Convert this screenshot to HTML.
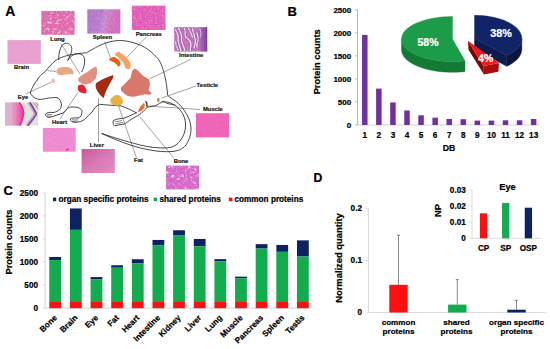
<!DOCTYPE html>
<html><head><meta charset="utf-8"><style>
html,body{margin:0;padding:0;background:#fff;width:550px;height:349px;overflow:hidden}
svg{display:block}
text{font-family:"Liberation Sans",sans-serif;font-weight:bold}
</style></head><body>
<svg width="550" height="349" viewBox="0 0 550 349">
<rect width="550" height="349" fill="#fff"/>
<text x="5.2" y="16" font-size="14" text-anchor="start" fill="#000"  stroke="#000" stroke-width="0.22">A</text>
<text x="287.6" y="16.3" font-size="13" text-anchor="start" fill="#000"  stroke="#000" stroke-width="0.22">B</text>
<text x="3.4" y="194.9" font-size="13" text-anchor="start" fill="#000"  stroke="#000" stroke-width="0.22">C</text>
<text x="313.6" y="181.9" font-size="12.2" text-anchor="start" fill="#000"  stroke="#000" stroke-width="0.22">D</text>
<line x1="357.5" y1="9.5" x2="357.5" y2="125.0" stroke="#9fb3cf" stroke-width="0.9"/>
<line x1="357.5" y1="125.0" x2="540" y2="125.0" stroke="#c8d0dc" stroke-width="0.9"/>
<line x1="355.0" y1="9.9" x2="357.5" y2="9.9" stroke="#9fb3cf" stroke-width="0.9"/>
<text x="351.2" y="12.6" font-size="8.0" text-anchor="end" fill="#000"  stroke="#000" stroke-width="0.22">2500</text>
<line x1="355.0" y1="32.9" x2="357.5" y2="32.9" stroke="#9fb3cf" stroke-width="0.9"/>
<text x="351.2" y="35.6" font-size="8.0" text-anchor="end" fill="#000"  stroke="#000" stroke-width="0.22">2000</text>
<line x1="355.0" y1="55.9" x2="357.5" y2="55.9" stroke="#9fb3cf" stroke-width="0.9"/>
<text x="351.2" y="58.6" font-size="8.0" text-anchor="end" fill="#000"  stroke="#000" stroke-width="0.22">1500</text>
<line x1="355.0" y1="78.9" x2="357.5" y2="78.9" stroke="#9fb3cf" stroke-width="0.9"/>
<text x="351.2" y="81.6" font-size="8.0" text-anchor="end" fill="#000"  stroke="#000" stroke-width="0.22">1000</text>
<line x1="355.0" y1="101.9" x2="357.5" y2="101.9" stroke="#9fb3cf" stroke-width="0.9"/>
<text x="351.2" y="104.6" font-size="8.0" text-anchor="end" fill="#000"  stroke="#000" stroke-width="0.22">500</text>
<line x1="355.0" y1="124.9" x2="357.5" y2="124.9" stroke="#9fb3cf" stroke-width="0.9"/>
<text x="351.2" y="127.6" font-size="8.0" text-anchor="end" fill="#000"  stroke="#000" stroke-width="0.22">0</text>
<rect x="362.05" y="34.9" width="5.5" height="90.10" fill="#7030a0"/>
<text x="364.80" y="138.2" font-size="8.2" text-anchor="middle" fill="#000"  stroke="#000" stroke-width="0.22">1</text>
<rect x="376.12" y="88.6" width="5.5" height="36.40" fill="#7030a0"/>
<text x="378.87" y="138.2" font-size="8.2" text-anchor="middle" fill="#000"  stroke="#000" stroke-width="0.22">2</text>
<rect x="390.19" y="102.4" width="5.5" height="22.60" fill="#7030a0"/>
<text x="392.94" y="138.2" font-size="8.2" text-anchor="middle" fill="#000"  stroke="#000" stroke-width="0.22">3</text>
<rect x="404.26" y="110.5" width="5.5" height="14.50" fill="#7030a0"/>
<text x="407.01" y="138.2" font-size="8.2" text-anchor="middle" fill="#000"  stroke="#000" stroke-width="0.22">4</text>
<rect x="418.33" y="115.3" width="5.5" height="9.70" fill="#7030a0"/>
<text x="421.08" y="138.2" font-size="8.2" text-anchor="middle" fill="#000"  stroke="#000" stroke-width="0.22">5</text>
<rect x="432.40" y="117.7" width="5.5" height="7.30" fill="#7030a0"/>
<text x="435.15" y="138.2" font-size="8.2" text-anchor="middle" fill="#000"  stroke="#000" stroke-width="0.22">6</text>
<rect x="446.47" y="119.0" width="5.5" height="6.00" fill="#7030a0"/>
<text x="449.22" y="138.2" font-size="8.2" text-anchor="middle" fill="#000"  stroke="#000" stroke-width="0.22">7</text>
<rect x="460.54" y="119.2" width="5.5" height="5.80" fill="#7030a0"/>
<text x="463.29" y="138.2" font-size="8.2" text-anchor="middle" fill="#000"  stroke="#000" stroke-width="0.22">8</text>
<rect x="474.61" y="120.6" width="5.5" height="4.40" fill="#7030a0"/>
<text x="477.36" y="138.2" font-size="8.2" text-anchor="middle" fill="#000"  stroke="#000" stroke-width="0.22">9</text>
<rect x="488.68" y="120.6" width="5.5" height="4.40" fill="#7030a0"/>
<text x="491.43" y="138.2" font-size="8.2" text-anchor="middle" fill="#000"  stroke="#000" stroke-width="0.22">10</text>
<rect x="502.75" y="120.3" width="5.5" height="4.70" fill="#7030a0"/>
<text x="505.50" y="138.2" font-size="8.2" text-anchor="middle" fill="#000"  stroke="#000" stroke-width="0.22">11</text>
<rect x="516.82" y="120.3" width="5.5" height="4.70" fill="#7030a0"/>
<text x="519.57" y="138.2" font-size="8.2" text-anchor="middle" fill="#000"  stroke="#000" stroke-width="0.22">12</text>
<rect x="530.89" y="119.0" width="5.5" height="6.00" fill="#7030a0"/>
<text x="533.64" y="138.2" font-size="8.2" text-anchor="middle" fill="#000"  stroke="#000" stroke-width="0.22">13</text>
<text x="449" y="150.6" font-size="8.7" text-anchor="middle" fill="#000"  stroke="#000" stroke-width="0.22">DB</text>
<text x="0" y="0" font-size="9.3" stroke="#000" stroke-width="0.22" text-anchor="middle" transform="translate(320.3 61.8) rotate(-90)">Protein counts</text>
<path d="M465.01 60.81 L462.35 61.08 L459.66 61.28 L456.95 61.41 L454.23 61.49 L451.50 61.50 L448.78 61.44 L446.06 61.32 L443.37 61.14 L440.70 60.89 L438.06 60.58 L435.47 60.21 L432.92 59.78 L430.43 59.28 L428.00 58.73 L425.65 58.13 L423.37 57.47 L421.17 56.75 L419.06 55.99 L417.05 55.18 L415.14 54.32 L413.34 53.41 L411.65 52.47 L410.08 51.49 L408.62 50.47 L407.30 49.42 L406.10 48.34 L405.03 47.23 L404.10 46.10 L403.31 44.95 L402.66 43.78 L402.16 42.60 L401.79 41.40 L401.57 40.20 L401.50 39.00 L401.50 49.80 L401.57 51.00 L401.79 52.20 L402.16 53.40 L402.66 54.58 L403.31 55.75 L404.10 56.90 L405.03 58.03 L406.10 59.14 L407.30 60.22 L408.62 61.27 L410.08 62.29 L411.65 63.27 L413.34 64.21 L415.14 65.12 L417.05 65.98 L419.06 66.79 L421.17 67.55 L423.37 68.27 L425.65 68.93 L428.00 69.53 L430.43 70.08 L432.92 70.58 L435.47 71.01 L438.06 71.38 L440.70 71.69 L443.37 71.94 L446.06 72.12 L448.78 72.24 L451.50 72.30 L454.23 72.29 L456.95 72.21 L459.66 72.08 L462.35 71.88 L465.01 71.61 Z" fill="#137a36" stroke="#137a36" stroke-width="0.4" stroke-linejoin="round"/>
<path d="M452.50 39.00 L465.01 60.81 L462.38 61.07 L459.71 61.27 L457.03 61.41 L454.34 61.49 L451.63 61.50 L448.94 61.45 L446.25 61.33 L443.58 61.15 L440.93 60.91 L438.32 60.61 L435.75 60.25 L433.22 59.83 L430.75 59.35 L428.34 58.81 L425.99 58.22 L423.72 57.58 L421.53 56.88 L419.43 56.13 L417.42 55.33 L415.51 54.49 L413.71 53.61 L412.01 52.68 L410.42 51.71 L408.96 50.71 L407.61 49.68 L406.39 48.62 L405.30 47.53 L404.35 46.41 L403.53 45.28 L402.84 44.13 L402.30 42.96 L401.89 41.78 L401.63 40.60 L401.51 39.40 L401.53 38.21 L401.70 37.02 L402.01 35.84 L402.46 34.67 L403.05 33.50 L403.77 32.36 L404.64 31.23 L405.64 30.12 L406.77 29.04 L408.03 27.98 L409.41 26.96 L410.92 25.97 L412.54 25.02 L414.27 24.11 L416.11 23.23 L418.06 22.41 L420.10 21.63 L422.23 20.89 L424.44 20.21 L426.74 19.58 L429.10 19.01 L431.53 18.49 L434.02 18.03 L436.57 17.63 L439.15 17.28 L441.78 17.00 L444.43 16.78 L447.11 16.63 L449.80 16.53 L452.50 16.50 Z" fill="#1c9c48" stroke="#1c9c48" stroke-width="0.4" stroke-linejoin="round"/>
<path d="M521.80 38.50 L521.73 39.77 L521.52 41.03 L521.16 42.29 L520.67 43.53 L520.04 44.76 L519.28 45.98 L518.38 47.17 L517.35 48.33 L516.19 49.46 L514.90 50.56 L513.50 51.63 L511.98 52.66 L510.34 53.64 L508.60 54.58 L506.76 55.47 L506.76 66.27 L508.60 65.38 L510.34 64.44 L511.98 63.46 L513.50 62.43 L514.90 61.36 L516.19 60.26 L517.35 59.13 L518.38 57.97 L519.28 56.78 L520.04 55.56 L520.67 54.33 L521.16 53.09 L521.52 51.83 L521.73 50.57 L521.80 49.30 Z" fill="#0a1540" stroke="#0a1540" stroke-width="0.4" stroke-linejoin="round"/>
<path d="M474.50 38.50 L506.76 55.47 L506.76 66.27 L474.50 49.30 Z" fill="#0c1a4c" stroke="#0c1a4c" stroke-width="0.4" stroke-linejoin="round"/>
<path d="M474.50 38.50 L474.50 15.30 L477.01 15.33 L479.52 15.43 L482.01 15.59 L484.48 15.82 L486.92 16.11 L489.33 16.47 L491.69 16.89 L494.01 17.36 L496.27 17.90 L498.47 18.50 L500.60 19.15 L502.66 19.86 L504.64 20.62 L506.53 21.43 L508.33 22.29 L510.04 23.19 L511.65 24.14 L513.15 25.13 L514.54 26.15 L515.82 27.21 L516.99 28.31 L518.03 29.43 L518.95 30.57 L519.75 31.74 L520.42 32.93 L520.96 34.14 L521.36 35.35 L521.64 36.58 L521.78 37.81 L521.79 39.04 L521.66 40.27 L521.40 41.50 L521.01 42.71 L520.49 43.92 L519.84 45.11 L519.06 46.28 L518.15 47.43 L517.12 48.56 L515.98 49.65 L514.71 50.72 L513.33 51.75 L511.84 52.74 L510.25 53.69 L508.55 54.60 L506.76 55.47 Z" fill="#122468" stroke="#122468" stroke-width="0.4" stroke-linejoin="round"/>
<path d="M468 40.7 L468.6 50 L484 74.6 L483.5 66 Z" fill="#780808"/>
<path d="M483.5 66 L499 63.1 L498.4 71.7 L484 74.6 Z" fill="#a80e0e"/>
<path d="M468 40.7 L499 63.1 L483.5 66 Z" fill="#ee1a1a"/>
<text x="428" y="45.5" font-size="10.5" text-anchor="middle" fill="#fff"  stroke="#fff" stroke-width="0.22">58%</text>
<text x="501" y="37.3" font-size="10.8" text-anchor="middle" fill="#fff"  stroke="#fff" stroke-width="0.22">38%</text>
<text x="485.8" y="62" font-size="10.4" text-anchor="middle" fill="#fff"  stroke="#fff" stroke-width="0.22">4%</text>
<line x1="45.1" y1="192.9" x2="45.1" y2="308.2" stroke="#d0d0d0" stroke-width="0.9"/>
<line x1="45.1" y1="308.2" x2="312.7" y2="308.2" stroke="#d0d0d0" stroke-width="0.9"/>
<line x1="42.6" y1="192.9" x2="45.1" y2="192.9" stroke="#d0d0d0" stroke-width="0.9"/>
<text x="38.0" y="195.9" font-size="8.2" text-anchor="end" fill="#000"  stroke="#000" stroke-width="0.22">2500</text>
<line x1="42.6" y1="215.94" x2="45.1" y2="215.94" stroke="#d0d0d0" stroke-width="0.9"/>
<text x="38.0" y="218.94" font-size="8.2" text-anchor="end" fill="#000"  stroke="#000" stroke-width="0.22">2000</text>
<line x1="42.6" y1="238.98000000000002" x2="45.1" y2="238.98000000000002" stroke="#d0d0d0" stroke-width="0.9"/>
<text x="38.0" y="241.98000000000002" font-size="8.2" text-anchor="end" fill="#000"  stroke="#000" stroke-width="0.22">1500</text>
<line x1="42.6" y1="262.02" x2="45.1" y2="262.02" stroke="#d0d0d0" stroke-width="0.9"/>
<text x="38.0" y="265.02" font-size="8.2" text-anchor="end" fill="#000"  stroke="#000" stroke-width="0.22">1000</text>
<line x1="42.6" y1="285.06" x2="45.1" y2="285.06" stroke="#d0d0d0" stroke-width="0.9"/>
<text x="38.0" y="288.06" font-size="8.2" text-anchor="end" fill="#000"  stroke="#000" stroke-width="0.22">500</text>
<line x1="42.6" y1="308.1" x2="45.1" y2="308.1" stroke="#d0d0d0" stroke-width="0.9"/>
<text x="38.0" y="311.1" font-size="8.2" text-anchor="end" fill="#000"  stroke="#000" stroke-width="0.22">0</text>
<text x="0" y="0" font-size="9.3" stroke="#000" stroke-width="0.22" text-anchor="middle" transform="translate(11.8 242) rotate(-90)">Protein counts</text>
<rect x="49.30" y="256.95" width="11.8" height="3.10" fill="#0c2262"/>
<rect x="49.30" y="260.05" width="11.8" height="41.95" fill="#10ac4e"/>
<rect x="49.30" y="302.0" width="11.8" height="6.20" fill="#ff1010"/>
<text x="0" y="0" font-size="8.2" stroke="#000" stroke-width="0.22" text-anchor="end" transform="translate(57.40 318.3) rotate(-45)">Bone</text>
<rect x="69.94" y="208.45" width="11.8" height="21.40" fill="#0c2262"/>
<rect x="69.94" y="229.85" width="11.8" height="72.15" fill="#10ac4e"/>
<rect x="69.94" y="302.0" width="11.8" height="6.20" fill="#ff1010"/>
<text x="0" y="0" font-size="8.2" stroke="#000" stroke-width="0.22" text-anchor="end" transform="translate(78.04 318.3) rotate(-45)">Brain</text>
<rect x="90.58" y="277.05" width="11.8" height="2.10" fill="#0c2262"/>
<rect x="90.58" y="279.15" width="11.8" height="22.85" fill="#10ac4e"/>
<rect x="90.58" y="302.0" width="11.8" height="6.20" fill="#ff1010"/>
<text x="0" y="0" font-size="8.2" stroke="#000" stroke-width="0.22" text-anchor="end" transform="translate(98.68 318.3) rotate(-45)">Eye</text>
<rect x="111.22" y="265.25" width="11.8" height="2.50" fill="#0c2262"/>
<rect x="111.22" y="267.75" width="11.8" height="34.25" fill="#10ac4e"/>
<rect x="111.22" y="302.0" width="11.8" height="6.20" fill="#ff1010"/>
<text x="0" y="0" font-size="8.2" stroke="#000" stroke-width="0.22" text-anchor="end" transform="translate(119.32 318.3) rotate(-45)">Fat</text>
<rect x="131.86" y="259.25" width="11.8" height="4.20" fill="#0c2262"/>
<rect x="131.86" y="263.45" width="11.8" height="38.55" fill="#10ac4e"/>
<rect x="131.86" y="302.0" width="11.8" height="6.20" fill="#ff1010"/>
<text x="0" y="0" font-size="8.2" stroke="#000" stroke-width="0.22" text-anchor="end" transform="translate(139.96 318.3) rotate(-45)">Heart</text>
<rect x="152.50" y="239.95" width="11.8" height="5.20" fill="#0c2262"/>
<rect x="152.50" y="245.14999999999998" width="11.8" height="56.85" fill="#10ac4e"/>
<rect x="152.50" y="302.0" width="11.8" height="6.20" fill="#ff1010"/>
<text x="0" y="0" font-size="8.2" stroke="#000" stroke-width="0.22" text-anchor="end" transform="translate(160.60 318.3) rotate(-45)">Intestine</text>
<rect x="173.14" y="230.25" width="11.8" height="5.30" fill="#0c2262"/>
<rect x="173.14" y="235.54999999999998" width="11.8" height="66.45" fill="#10ac4e"/>
<rect x="173.14" y="302.0" width="11.8" height="6.20" fill="#ff1010"/>
<text x="0" y="0" font-size="8.2" stroke="#000" stroke-width="0.22" text-anchor="end" transform="translate(181.24 318.3) rotate(-45)">Kidney</text>
<rect x="193.78" y="238.95" width="11.8" height="7.40" fill="#0c2262"/>
<rect x="193.78" y="246.35" width="11.8" height="55.65" fill="#10ac4e"/>
<rect x="193.78" y="302.0" width="11.8" height="6.20" fill="#ff1010"/>
<text x="0" y="0" font-size="8.2" stroke="#000" stroke-width="0.22" text-anchor="end" transform="translate(201.88 318.3) rotate(-45)">Liver</text>
<rect x="214.42" y="259.15" width="11.8" height="2.20" fill="#0c2262"/>
<rect x="214.42" y="261.34999999999997" width="11.8" height="40.65" fill="#10ac4e"/>
<rect x="214.42" y="302.0" width="11.8" height="6.20" fill="#ff1010"/>
<text x="0" y="0" font-size="8.2" stroke="#000" stroke-width="0.22" text-anchor="end" transform="translate(222.52 318.3) rotate(-45)">Lung</text>
<rect x="235.06" y="276.65" width="11.8" height="1.60" fill="#0c2262"/>
<rect x="235.06" y="278.25" width="11.8" height="23.75" fill="#10ac4e"/>
<rect x="235.06" y="302.0" width="11.8" height="6.20" fill="#ff1010"/>
<text x="0" y="0" font-size="8.2" stroke="#000" stroke-width="0.22" text-anchor="end" transform="translate(243.16 318.3) rotate(-45)">Muscle</text>
<rect x="255.70" y="244.14999999999998" width="11.8" height="4.40" fill="#0c2262"/>
<rect x="255.70" y="248.54999999999998" width="11.8" height="53.45" fill="#10ac4e"/>
<rect x="255.70" y="302.0" width="11.8" height="6.20" fill="#ff1010"/>
<text x="0" y="0" font-size="8.2" stroke="#000" stroke-width="0.22" text-anchor="end" transform="translate(263.80 318.3) rotate(-45)">Pancreas</text>
<rect x="276.34" y="244.95" width="11.8" height="6.90" fill="#0c2262"/>
<rect x="276.34" y="251.85" width="11.8" height="50.15" fill="#10ac4e"/>
<rect x="276.34" y="302.0" width="11.8" height="6.20" fill="#ff1010"/>
<text x="0" y="0" font-size="8.2" stroke="#000" stroke-width="0.22" text-anchor="end" transform="translate(284.44 318.3) rotate(-45)">Spleen</text>
<rect x="296.98" y="240.35" width="11.8" height="16.10" fill="#0c2262"/>
<rect x="296.98" y="256.45" width="11.8" height="45.55" fill="#10ac4e"/>
<rect x="296.98" y="302.0" width="11.8" height="6.20" fill="#ff1010"/>
<text x="0" y="0" font-size="8.2" stroke="#000" stroke-width="0.22" text-anchor="end" transform="translate(305.08 318.3) rotate(-45)">Testis</text>
<rect x="53" y="197.6" width="3.2" height="3.6" fill="#0c2262"/>
<text x="58.6" y="201.6" font-size="8.2" text-anchor="start" fill="#000"  stroke="#000" stroke-width="0.22">organ specific proteins</text>
<rect x="153.6" y="197.6" width="3.4" height="3.6" fill="#10ac4e"/>
<text x="159.5" y="201.6" font-size="8.2" text-anchor="start" fill="#000"  stroke="#000" stroke-width="0.22">shared proteins</text>
<rect x="228.8" y="197.6" width="3.6" height="3.6" fill="#ff1010"/>
<text x="234.5" y="201.6" font-size="8.2" text-anchor="start" fill="#000"  stroke="#000" stroke-width="0.22">common proteins</text>
<line x1="368.5" y1="208.4" x2="368.5" y2="312.5" stroke="#d8d8d8" stroke-width="0.9"/>
<line x1="368.5" y1="312.5" x2="546" y2="312.5" stroke="#d8d8d8" stroke-width="0.9"/>
<line x1="366.0" y1="208.4" x2="368.5" y2="208.4" stroke="#d8d8d8" stroke-width="0.9"/>
<text x="362" y="211.4" font-size="8.2" text-anchor="end" fill="#000"  stroke="#000" stroke-width="0.22">0.2</text>
<line x1="366.0" y1="260.4" x2="368.5" y2="260.4" stroke="#d8d8d8" stroke-width="0.9"/>
<text x="362" y="263.4" font-size="8.2" text-anchor="end" fill="#000"  stroke="#000" stroke-width="0.22">0.1</text>
<line x1="366.0" y1="312.4" x2="368.5" y2="312.4" stroke="#d8d8d8" stroke-width="0.9"/>
<text x="362" y="315.4" font-size="8.2" text-anchor="end" fill="#000"  stroke="#000" stroke-width="0.22">0</text>
<text x="0" y="0" font-size="9.4" stroke="#000" stroke-width="0.22" text-anchor="middle" transform="translate(341.6 258) rotate(-90)">Normalized quantity</text>
<line x1="398.5" y1="235.3" x2="398.5" y2="284.8" stroke="#555" stroke-width="0.7"/>
<line x1="397.0" y1="235.3" x2="400.0" y2="235.3" stroke="#555" stroke-width="0.7"/>
<rect x="389.3" y="284.8" width="18.4" height="27.70" fill="#ff1010"/>
<line x1="457.3" y1="279.6" x2="457.3" y2="304.6" stroke="#555" stroke-width="0.7"/>
<line x1="455.8" y1="279.6" x2="458.8" y2="279.6" stroke="#555" stroke-width="0.7"/>
<rect x="448.1" y="304.6" width="18.4" height="7.90" fill="#10ac4e"/>
<line x1="516.5" y1="300.3" x2="516.5" y2="309.7" stroke="#555" stroke-width="0.7"/>
<line x1="515.0" y1="300.3" x2="518.0" y2="300.3" stroke="#555" stroke-width="0.7"/>
<rect x="507.3" y="309.7" width="18.4" height="2.80" fill="#0c2262"/>
<text x="398.5" y="324.8" font-size="8.1" text-anchor="middle" fill="#000"  stroke="#000" stroke-width="0.22">common</text>
<text x="398.5" y="333.8" font-size="8.1" text-anchor="middle" fill="#000"  stroke="#000" stroke-width="0.22">proteins</text>
<text x="456.5" y="324.8" font-size="8.1" text-anchor="middle" fill="#000"  stroke="#000" stroke-width="0.22">shared</text>
<text x="456.5" y="333.8" font-size="8.1" text-anchor="middle" fill="#000"  stroke="#000" stroke-width="0.22">proteins</text>
<text x="516.5" y="324.8" font-size="8.1" text-anchor="middle" fill="#000"  stroke="#000" stroke-width="0.22">organ specific</text>
<text x="516.5" y="333.8" font-size="8.1" text-anchor="middle" fill="#000"  stroke="#000" stroke-width="0.22">proteins</text>
<line x1="472.0" y1="189.9" x2="472.0" y2="238.3" stroke="#d8d8d8" stroke-width="0.9"/>
<line x1="472.0" y1="238.3" x2="541" y2="238.3" stroke="#d8d8d8" stroke-width="0.9"/>
<line x1="469.5" y1="189.9" x2="472.0" y2="189.9" stroke="#d8d8d8" stroke-width="0.9"/>
<text x="465.8" y="192.9" font-size="8.2" text-anchor="end" fill="#000"  stroke="#000" stroke-width="0.22">0.03</text>
<line x1="469.5" y1="206.1" x2="472.0" y2="206.1" stroke="#d8d8d8" stroke-width="0.9"/>
<text x="465.8" y="209.1" font-size="8.2" text-anchor="end" fill="#000"  stroke="#000" stroke-width="0.22">0.02</text>
<line x1="469.5" y1="222.2" x2="472.0" y2="222.2" stroke="#d8d8d8" stroke-width="0.9"/>
<text x="465.8" y="225.2" font-size="8.2" text-anchor="end" fill="#000"  stroke="#000" stroke-width="0.22">0.01</text>
<line x1="469.5" y1="238.3" x2="472.0" y2="238.3" stroke="#d8d8d8" stroke-width="0.9"/>
<text x="465.8" y="241.3" font-size="8.2" text-anchor="end" fill="#000"  stroke="#000" stroke-width="0.22">0</text>
<text x="0" y="0" font-size="9.3" stroke="#000" stroke-width="0.22" text-anchor="middle" transform="translate(441.3 210.5) rotate(-90)">NP</text>
<text x="507.5" y="189.8" font-size="9.3" text-anchor="middle" fill="#000"  stroke="#000" stroke-width="0.22">Eye</text>
<rect x="479.95000000000005" y="213.3" width="7.3" height="25.00" fill="#ff1010"/>
<text x="483.6" y="251.1" font-size="8.2" text-anchor="middle" fill="#000"  stroke="#000" stroke-width="0.22">CP</text>
<rect x="502.05" y="202.9" width="7.3" height="35.40" fill="#10ac4e"/>
<text x="505.7" y="251.1" font-size="8.2" text-anchor="middle" fill="#000"  stroke="#000" stroke-width="0.22">SP</text>
<rect x="524.75" y="207.7" width="7.3" height="30.60" fill="#0c2262"/>
<text x="528.4" y="251.1" font-size="8.2" text-anchor="middle" fill="#000"  stroke="#000" stroke-width="0.22">OSP</text>
<defs>
<filter id="nw" x="0" y="0" width="100%" height="100%" color-interpolation-filters="sRGB"><feTurbulence type="fractalNoise" baseFrequency="0.45" numOctaves="2" seed="4"/><feColorMatrix type="matrix" values="0 0 0 0 1 0 0 0 0 1 0 0 0 0 1 3 0 0 0 -1.6"/><feGaussianBlur stdDeviation="0.35"/><feComposite in2="SourceGraphic" operator="in"/></filter>
<filter id="nd" x="0" y="0" width="100%" height="100%" color-interpolation-filters="sRGB"><feTurbulence type="fractalNoise" baseFrequency="0.5" numOctaves="2" seed="9"/><feColorMatrix type="matrix" values="0 0 0 0 0.55 0 0 0 0 0.25 0 0 0 0 0.65 0 3 0 0 -1.7"/><feGaussianBlur stdDeviation="0.35"/><feComposite in2="SourceGraphic" operator="in"/></filter>
<filter id="nw2" x="0" y="0" width="100%" height="100%" color-interpolation-filters="sRGB"><feTurbulence type="fractalNoise" baseFrequency="0.32" numOctaves="2" seed="11"/><feColorMatrix type="matrix" values="0 0 0 0 1 0 0 0 0 0.92 0 0 0 0 1 3.2 0 0 0 -1.75"/><feGaussianBlur stdDeviation="0.4"/><feComposite in2="SourceGraphic" operator="in"/></filter>
<filter id="nl" x="0" y="0" width="100%" height="100%" color-interpolation-filters="sRGB"><feTurbulence type="fractalNoise" baseFrequency="0.6" numOctaves="2" seed="2"/><feColorMatrix type="matrix" values="0 0 0 0 1 0 0 0 0 1 0 0 0 0 1 0 0 3 0 -1.7"/><feComposite in2="SourceGraphic" operator="in"/></filter>
<linearGradient id="gsp" x1="0" x2="1" y1="0" y2="0.2"><stop offset="0" stop-color="#b474c8"/><stop offset="0.45" stop-color="#b87ccc"/><stop offset="0.6" stop-color="#c88ad4"/><stop offset="0.72" stop-color="#d078c4"/><stop offset="1" stop-color="#d468b8"/></linearGradient>
<linearGradient id="gli" x1="0" x2="1" y1="0" y2="1"><stop offset="0" stop-color="#c85898"/><stop offset="0.5" stop-color="#d878b4"/><stop offset="1" stop-color="#e08cc0"/></linearGradient>
</defs>
<rect x="41.3" y="10.9" width="33.3" height="23.9" fill="#e06aac"/>
<rect x="41.3" y="10.9" width="33.3" height="23.9" fill="#fff" filter="url(#nl)" opacity="0.4"/>
<rect x="41.3" y="10.9" width="33.3" height="23.9" fill="#000" filter="url(#nd)" opacity="0.2"/>
<rect x="41.3" y="10.9" width="33.3" height="23.9" fill="#fff" filter="url(#nw2)" opacity="0.85"/>
<rect x="87.3" y="9.3" width="33.1" height="24.3" fill="url(#gsp)"/>
<rect x="87.3" y="9.3" width="33.1" height="24.3" fill="#fff" filter="url(#nl)" opacity="0.25"/>
<rect x="87.3" y="9.3" width="33.1" height="24.3" fill="#fff" filter="url(#nw)" opacity="0.2"/>
<rect x="87.3" y="9.3" width="33.1" height="24.3" fill="#000" filter="url(#nd)" opacity="0.3"/>
<rect x="131.9" y="5.7" width="33.6" height="24.3" fill="#e45cb8"/>
<rect x="131.9" y="5.7" width="33.6" height="24.3" fill="#fff" filter="url(#nl)" opacity="0.3"/>
<rect x="131.9" y="5.7" width="33.6" height="24.3" fill="#fff" filter="url(#nw)" opacity="0.35"/>
<rect x="131.9" y="5.7" width="33.6" height="24.3" fill="#000" filter="url(#nd)" opacity="0.6"/>
<rect x="174.2" y="27.2" width="33" height="24.3" fill="#c27ab8"/>
<path d="M175.5 29.5 C177 33 179 36 178 40 C178.5 44 180 47 181 51 M178.5 28 C180.5 32 182.5 35 181.5 40 C182 44 184 47 185 51 M184.5 28.5 C185 32 185.2 35 185.6 37 C188 38.5 190 40 190.8 43 C191.2 46 190.5 48.5 190 51 M188.5 28.5 C190 31 191.5 34 192.5 37 M192.5 29 C193.5 33 195 37 195.4 41 C195.2 44 194.5 46 194 48 M197 33 C198 36 199 38 198 41 C197 43 196.5 45 197 47 M175.5 42 C176 45 177 48 178 50 M200 29 C201.5 32 201 35 200.5 37" stroke="#a050a8" stroke-width="2.6" fill="none" stroke-linecap="round" opacity="0.7"/>
<path d="M175.5 29.5 C177 33 179 36 178 40 C178.5 44 180 47 181 51 M178.5 28 C180.5 32 182.5 35 181.5 40 C182 44 184 47 185 51 M184.5 28.5 C185 32 185.2 35 185.6 37 C188 38.5 190 40 190.8 43 C191.2 46 190.5 48.5 190 51 M188.5 28.5 C190 31 191.5 34 192.5 37 M192.5 29 C193.5 33 195 37 195.4 41 C195.2 44 194.5 46 194 48 M197 33 C198 36 199 38 198 41 C197 43 196.5 45 197 47 M175.5 42 C176 45 177 48 178 50 M200 29 C201.5 32 201 35 200.5 37" stroke="#ecdcf0" stroke-width="1.4" fill="none" stroke-linecap="round"/>
<rect x="174.2" y="27.2" width="33" height="24.3" fill="#fff" filter="url(#nd)" opacity="0.55"/>
<defs><linearGradient id="gin" x1="0" x2="1"><stop offset="0.72" stop-color="#7030a0" stop-opacity="0"/><stop offset="1" stop-color="#6a2c98" stop-opacity="0.8"/></linearGradient></defs>
<rect x="174.2" y="27.2" width="33" height="24.3" fill="url(#gin)"/>
<rect x="7.5" y="40.1" width="33.3" height="23.8" fill="#e8a0d0"/>
<rect x="7.5" y="40.1" width="33.3" height="23.8" fill="#fff" filter="url(#nl)" opacity="0.15"/>
<defs><linearGradient id="gey" x1="0" x2="1"><stop offset="0" stop-color="#dcb4d0"/><stop offset="0.3" stop-color="#e2acd0"/><stop offset="0.55" stop-color="#ec88bc"/><stop offset="1" stop-color="#f03898"/></linearGradient><clipPath id="cey"><rect x="5" y="102.2" width="33.5" height="23.5"/></clipPath></defs>
<g clip-path="url(#cey)">
<rect x="5" y="102.2" width="33.5" height="23.5" fill="#dfe5d6"/>
<path d="M5 102.2 L19.5 102.2 C22 106 23.8 110 23.5 114 C23.2 118 21.5 122 20 125.7 L5 125.7 Z" fill="url(#gey)"/>
<path d="M19.5 102.2 C22 106 23.8 110 23.5 114 C23.2 118 21.5 122 20 125.7" stroke="#f02890" stroke-width="1.6" fill="none"/>
<path d="M29 102 C31 106 34 110 35.6 114 C33.5 118 30 121.5 27 126" stroke="#c4a0d0" stroke-width="3.2" fill="none"/>
<path d="M29.8 102 C31.8 106 34.8 110 36.4 114 C34.3 118 30.8 121.5 27.8 126" stroke="#7a48a0" stroke-width="1.6" fill="none"/>
<path d="M33 102.3 C35 104.5 37 107 38.8 109.5 M35.5 102.3 C36.5 103.5 37.5 104.5 38.8 106" stroke="#b86080" stroke-width="0.9" fill="none"/>
</g>
<rect x="5" y="102.2" width="33.5" height="23.5" fill="#fff" filter="url(#nl)" opacity="0.12"/>
<rect x="42.9" y="127.9" width="32.8" height="23.8" fill="#f08ad0"/>
<rect x="42.9" y="127.9" width="32.8" height="23.8" fill="#fff" filter="url(#nl)" opacity="0.2"/>
<ellipse cx="67.4" cy="149.6" rx="2" ry="1" fill="#e04888" transform="rotate(-30 67.4 149.6)"/>
<rect x="81.6" y="149.0" width="33.2" height="24.0" fill="url(#gli)"/>
<rect x="81.6" y="149.0" width="33.2" height="24.0" fill="#fff" filter="url(#nl)" opacity="0.15"/>
<rect x="196" y="113.2" width="33.1" height="24.2" fill="#f064b8"/>
<rect x="196" y="113.2" width="33.1" height="24.2" fill="#fff" filter="url(#nl)" opacity="0.12"/>
<rect x="166" y="165.6" width="33.1" height="23.8" fill="#d66ac8"/>
<rect x="166" y="165.6" width="33.1" height="23.8" fill="#fff" filter="url(#nl)" opacity="0.4"/>
<rect x="166" y="165.6" width="33.1" height="23.8" fill="#000" filter="url(#nd)" opacity="0.35"/>
<rect x="166" y="165.6" width="33.1" height="23.8" fill="#fff" filter="url(#nw2)" opacity="0.9"/>
<text x="57.5" y="40.9" font-size="5.9" text-anchor="middle" fill="#111" stroke="#111" stroke-width="0.18">Lung</text>
<text x="102.5" y="38.8" font-size="5.9" text-anchor="middle" fill="#111" stroke="#111" stroke-width="0.18">Spleen</text>
<text x="148.8" y="35.8" font-size="5.9" text-anchor="middle" fill="#111" stroke="#111" stroke-width="0.18">Pancreas</text>
<text x="191.2" y="56.5" font-size="5.9" text-anchor="middle" fill="#111" stroke="#111" stroke-width="0.18">Intestine</text>
<text x="21.5" y="69.3" font-size="5.9" text-anchor="middle" fill="#111" stroke="#111" stroke-width="0.18">Brain</text>
<text x="207.3" y="86.7" font-size="5.9" text-anchor="middle" fill="#111" stroke="#111" stroke-width="0.18">Testicle</text>
<text x="23" y="99.3" font-size="5.9" text-anchor="middle" fill="#111" stroke="#111" stroke-width="0.18">Eye</text>
<text x="212.9" y="110.5" font-size="5.9" text-anchor="middle" fill="#111" stroke="#111" stroke-width="0.18">Muscle</text>
<text x="59.6" y="123.8" font-size="5.9" text-anchor="middle" fill="#111" stroke="#111" stroke-width="0.18">Heart</text>
<text x="96.9" y="146.5" font-size="5.9" text-anchor="middle" fill="#111" stroke="#111" stroke-width="0.18">Liver</text>
<text x="138.5" y="161.7" font-size="5.9" text-anchor="middle" fill="#111" stroke="#111" stroke-width="0.18">Fat</text>
<text x="181" y="162.9" font-size="5.9" text-anchor="middle" fill="#111" stroke="#111" stroke-width="0.18">Bone</text>
<line x1="61" y1="43.6" x2="80" y2="74" stroke="#555" stroke-width="0.55" fill="none"/>
<line x1="47.3" y1="70.5" x2="55.9" y2="71.5" stroke="#555" stroke-width="0.55" fill="none"/>
<line x1="26" y1="93.8" x2="51.5" y2="82.2" stroke="#555" stroke-width="0.55" fill="none"/>
<line x1="60" y1="119" x2="78" y2="92.5" stroke="#555" stroke-width="0.55" fill="none"/>
<line x1="98.5" y1="98" x2="98.5" y2="142.5" stroke="#555" stroke-width="0.55" fill="none"/>
<line x1="118.6" y1="106" x2="136.3" y2="157.3" stroke="#555" stroke-width="0.55" fill="none"/>
<line x1="139.6" y1="116.6" x2="173.5" y2="157.5" stroke="#555" stroke-width="0.55" fill="none"/>
<line x1="146" y1="37.3" x2="126.4" y2="58" stroke="#555" stroke-width="0.55" fill="none"/>
<line x1="149.8" y1="78.7" x2="190.5" y2="59.5" stroke="#555" stroke-width="0.55" fill="none"/>
<line x1="161.5" y1="98.1" x2="196" y2="86" stroke="#555" stroke-width="0.55" fill="none"/>
<line x1="146.5" y1="106" x2="200" y2="109.5" stroke="#555" stroke-width="0.55" fill="none"/>
<line x1="104.5" y1="41.6" x2="110.4" y2="57.5" stroke="#555" stroke-width="0.55" fill="none"/>
<path d="M58.8 59.6 C58.5 54 60 47 63.3 44.2 C65.5 42.5 69.5 42.8 71.4 46.5 C72.3 49 71.5 52 70.8 53.5 C70 56 69 58.5 67.9 60.2" stroke="#333" stroke-width="0.9" fill="none" stroke-linejoin="round" stroke-linecap="round"/>
<path d="M67.9 60.2 C69.5 57.5 71.5 55.5 73.6 54.9 C76 53.8 79 53.5 81 54.2 C83.5 55 84.8 58 84.7 61 C84.6 65 83.5 69 81.7 71.7" stroke="#333" stroke-width="0.9" fill="none" stroke-linejoin="round" stroke-linecap="round"/>
<path d="M37.2 80 C38.5 77 42 74 45 71.7 C48 68 51.9 63.6 55 61 C58 58.5 62 57 69.1 55 C74 54 79.4 53.3 86.3 52.8 C90 51 93.1 48.8 100 45.3 C106 42.6 112 40.8 119.1 40.5 C126 40.3 133.6 42.4 140 45 C146 47.5 152 52 158.4 59.1 C161 63 163 68 165.3 78.1 C166.5 84 167.3 90 167.6 95.2 C170 97.5 172 99 175.4 100.8 C179 104 182 107 184.7 111.1 C188 116 190 120 190.8 126 C191.5 131 190.5 138 186 145 C182 149.5 178 151 172 151.5 C165 152 158 151.5 150 150 C138 148 122 143 102 133.6" stroke="#333" stroke-width="0.9" fill="none" stroke-linejoin="round" stroke-linecap="round"/>
<path d="M102 133.6 C115 138 125 141 140 145 C150 147.5 158 148 166 148 C172 147.5 176 146 180 141 C183.5 137 185.5 131 185.6 125 C185.5 119 183.5 114.5 181 111 C177 106 173 104 169 102.5 C166.5 101.8 164 101.5 162.4 101.8" stroke="#333" stroke-width="0.9" fill="none" stroke-linejoin="round" stroke-linecap="round"/>
<path d="M37.2 80 C34 84 31.5 88.5 30.3 92.9 C31 95 33 97 36 98.5 C38 99.5 40 99.5 42 99.3 C46 98.5 50 97.5 57 97.5 C59.5 98.5 61 101 61.5 105 C61 108 60 109.5 59 110 C57 111.5 55 112.5 53 112.5" stroke="#333" stroke-width="0.9" fill="none" stroke-linejoin="round" stroke-linecap="round"/>
<path d="M53 112.5 C50 112 47 112.5 45.3 114.2 C45.5 116.5 47.5 117.5 50 117.3 C51.5 117 53 116.5 54 116 C57 115 60 114 63 113 C65.5 111 67 109 68 108 C69 107.3 70 107 71 107 C73.5 106.8 76 107 78 107.5 C80.5 108.5 82 110 82 111 C82 113 81.5 115 81 116 C80 117 79 117.5 78 118" stroke="#333" stroke-width="0.9" fill="none" stroke-linejoin="round" stroke-linecap="round"/>
<path d="M47 114.3 L52 114.6 M46.5 116 L51.5 116.2" stroke="#3a3a3a" stroke-width="0.6" fill="none"/>
<path d="M78 118 C75 118 72 117.5 70.3 119 C70.5 121 72 122.5 75 122.3 C77 122.2 80 122 82 121 C84 120 85.5 118.5 87 117 C89 115 91 113 92 112 C94 109 96 106 99.3 104.3 C105 104.8 112 105.4 120.9 105.8 C126 107.5 131 110 136.4 112.8" stroke="#333" stroke-width="0.9" fill="none" stroke-linejoin="round" stroke-linecap="round"/>
<path d="M72 119.8 L78 120 M72.5 121.3 L77.5 121.5" stroke="#3a3a3a" stroke-width="0.6" fill="none"/>
<path d="M40 99.4 C44 99.6 48 100 50 99.5" stroke="none" fill="none"/>
<path d="M136.4 112.8 C132 115 128 116.5 124 118.2 C120 118.5 116 119 113.5 120.5 C112.5 122.5 113 124.5 114.5 125.8 C118 125 122 124.5 125.5 123.6 C128 121.5 130.5 119.5 133.3 118.2 C136 116.5 139 115 141 113.5 C143.5 111 145.5 109 147.2 107.4 C150 106.5 152.5 106 155 105.8 C158 104.5 161 102.5 162.4 101.8 C164 101.5 165.5 102.5 166.6 103.2 C169 104 172 104.5 175 105" stroke="#333" stroke-width="0.9" fill="none" stroke-linejoin="round" stroke-linecap="round"/>
<path d="M115 122 L122 120.5 M115.5 124 L123 122.3" stroke="#3a3a3a" stroke-width="0.6" fill="none"/>
<path d="M56.4 70.7 C58 68 60 67.2 61.5 67.2 C64 66.8 66 67 68.6 67.2 C71 68 72.5 69.5 72.9 70.7 C73.5 72 73.8 73.5 73.6 74.3 C71 74.5 69 74 67.2 74.3 C64 74.8 62 75.2 60 75 C58 74.2 56.6 73.2 56.4 72.2 Z" fill="#e8a880"/>
<circle cx="53.1" cy="80.8" r="2.2" fill="#f0c4b0"/>
<path d="M78.6 77.9 C81 75.5 83.5 74 85.8 72.9 C89 70.5 92.5 68 95.8 66.4 C96.8 67.5 97.3 68.8 97.2 70 C97 73 96.6 76 95.8 78.6 C94 80.5 92 82.5 90.1 83.6 C88 84.3 86 84.5 84.3 84.3 C82 83.6 80 82.6 78.6 81.5 C78 80 78.2 78.8 78.6 77.9 Z" fill="#e09080"/>
<path d="M77.9 85.8 C79.5 85 81.3 84.5 82.9 84.6 C84.5 86.3 85.8 88 86.5 90 C86.5 91.5 86.3 92.8 85.8 93.6 C83.8 93.3 81.8 92.8 80 92.2 C78.8 91.2 78 90.2 77.9 89.3 C77.7 88 77.7 86.8 77.9 85.8 Z" fill="#e82030"/>
<path d="M95.8 83.6 C98.5 81.5 101.5 79.8 104.4 78.6 C107 77.3 110 76 113 75 C113.5 76 113.3 77 113 77.9 C111 81.5 109 85 107.2 88.6 C105.8 91.5 104.6 95 103.7 97.9 C101.8 96.5 100 94.8 98.7 92.9 C97.3 91 96.2 89 95.8 87.2 C95.6 86 95.6 84.8 95.8 83.6 Z" fill="#a82810"/>
<path d="M110.1 100.1 C111.5 97.8 113.5 95.8 115.8 95.1 C117.5 95 119.3 95.5 120.8 96.5 C122.3 98.5 123 100.5 123 102.9 C121.5 104.5 119.5 105.5 117.3 105.8 C115 105.5 113 104.8 111.5 103.7 C110.5 102.5 110 101.2 110.1 100.1 Z" fill="#e8b040"/>
<path d="M109.6 58.4 C111.5 57.3 113 56.8 114.7 56.9 C116.5 57.8 118 59 119.1 60.5 C120 61.8 120.6 63.3 120.5 64.9 C120 65.8 119.2 66.4 118.4 66.4 C117.2 65 116 63.7 114.7 62.7 C113 61.8 111.3 61 109.6 60.5 C109.2 59.8 109.2 59 109.6 58.4 Z" fill="#f06010"/>
<path d="M115.5 53.3 C116.5 52.3 117.8 51.8 119.1 51.8 C121.5 53.5 124 55.5 126.4 57.6 C128.3 59.5 129.8 61.8 130.7 64.2 C130.8 66 130.3 67.8 129.3 69.3 C128 69.3 126.7 69 125.6 68.5 C124.8 66.5 124.2 64.5 123.5 62.7 C121 60 118.5 57.5 115.5 55.5 C115.2 54.8 115.2 54 115.5 53.3 Z" fill="#f8a060"/>
<path d="M134.4 68.4 C135.5 68.8 136.6 69.5 137.6 70.3 C139.5 72.3 141.5 74.3 143.4 76.1 C145.4 77.3 147.4 78.3 149.2 79.4 C149.7 81.5 150 83.7 149.8 85.8 C149.5 87.3 149 88.8 148.5 90.3 C149.7 91.3 151 92.3 151.8 93.5 C151.2 94.1 150.5 94.6 149.8 94.8 C148 94.6 146.3 94.3 144.7 94.2 C143 94.6 141.3 95.1 139.5 95.5 C137.3 96 135.2 96.5 133.1 96.8 C131.3 96.7 129.6 96.5 127.9 96.1 C125.6 94.6 123.4 92.8 121.5 91 C121 90 120.8 88.8 120.8 87.7 C122.3 86.2 123.8 84.7 125.3 83.2 C127 81.5 128.8 79.8 130.5 78.1 C131.2 76 131.5 73.8 131.8 71.6 C132.5 70.4 133.4 69.2 134.4 68.4 Z" fill="#d87868"/>
<ellipse cx="158.3" cy="100" rx="1.5" ry="2.2" fill="#b89860"/>
<path d="M137.9 112 C138.5 109 140.5 105.5 144.1 102.7 C145.2 104.5 145 107 143 109.5 C141.5 111 139.8 112 137.9 112 Z" fill="#e87030"/>
<path d="M145.5 101.2 C146.8 102 147.3 103.5 146.8 106.6" stroke="#222" stroke-width="1.3" fill="none"/>
</svg></body></html>
